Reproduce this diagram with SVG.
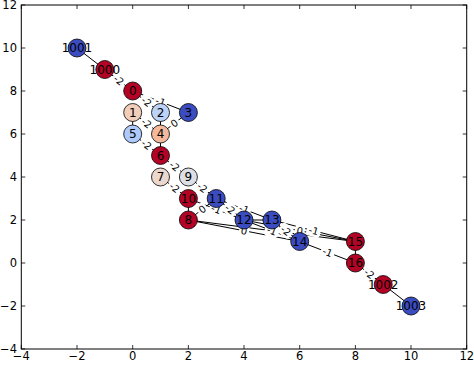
<svg xmlns="http://www.w3.org/2000/svg" width="474" height="366" viewBox="0 0 474 366">
<style>
text{font-family:"DejaVu Sans","Liberation Sans",sans-serif;fill:#000}
.tick{stroke:#000;stroke-width:0.8}
.ytl{font-size:11.5px;text-anchor:end}
.xtl{font-size:11.5px;text-anchor:middle}
.e line{stroke:#000;stroke-width:1}
.lb rect{fill:#fff;stroke:none}
.lb text{font-size:10px;text-anchor:middle;dominant-baseline:central}
.n circle{stroke:#000;stroke-width:0.8}
.n text{font-size:12px;text-anchor:middle;dominant-baseline:central}
.r{fill:#b40426}.b{fill:#3b4cc0}
</style>
<rect x="0" y="0" width="474" height="366" fill="#fff"/>
<g id="axes">
<rect x="21.3" y="5" width="445.4" height="344" fill="#fff" stroke="#000" stroke-width="1"/>
<path class="tick" d="M21.3 349v-4M77 349v-4M132.7 349v-4M188.4 349v-4M244 349v-4M299.7 349v-4M355.4 349v-4M411 349v-4M466.7 349v-4
M21.3 5v4M77 5v4M132.7 5v4M188.4 5v4M244 5v4M299.7 5v4M355.4 5v4M411 5v4M466.7 5v4
M21.3 349h4M21.3 306h4M21.3 263h4M21.3 220h4M21.3 177h4M21.3 134h4M21.3 91h4M21.3 48h4M21.3 5h4
M466.7 349h-4M466.7 306h-4M466.7 263h-4M466.7 220h-4M466.7 177h-4M466.7 134h-4M466.7 91h-4M466.7 48h-4M466.7 5h-4"/>
<g class="ytl">
<text x="17" y="353.2">−4</text>
<text x="17" y="310.2">−2</text>
<text x="17" y="267.2">0</text>
<text x="17" y="224.2">2</text>
<text x="17" y="181.2">4</text>
<text x="17" y="138.2">6</text>
<text x="17" y="95.2">8</text>
<text x="17" y="52.2">10</text>
<text x="17" y="9.2">12</text>
</g>
<g class="xtl">
<text x="21.3" y="359.5">−4</text>
<text x="77" y="359.5">−2</text>
<text x="132.7" y="359.5">0</text>
<text x="188.4" y="359.5">2</text>
<text x="244" y="359.5">4</text>
<text x="299.7" y="359.5">6</text>
<text x="355.4" y="359.5">8</text>
<text x="411" y="359.5">10</text>
<text x="466.7" y="359.5">12</text>
</g>
</g>
<g id="edges" class="e">
<line x1="77" y1="48" x2="104.8" y2="69.5"/>
<line x1="104.8" y1="69.5" x2="132.7" y2="91"/>
<line x1="132.7" y1="91" x2="160.5" y2="112.5"/>
<line x1="132.7" y1="91" x2="188.4" y2="112.5"/>
<line x1="132.7" y1="112.5" x2="160.5" y2="134"/>
<line x1="188.4" y1="112.5" x2="160.5" y2="134"/>
<line x1="132.7" y1="112.5" x2="132.7" y2="134"/>
<line x1="160.5" y1="112.5" x2="160.5" y2="134"/>
<line x1="132.7" y1="134" x2="160.5" y2="155.5"/>
<line x1="160.5" y1="134" x2="160.5" y2="155.5"/>
<line x1="160.5" y1="155.5" x2="188.4" y2="177"/>
<line x1="160.5" y1="177" x2="188.4" y2="198.5"/>
<line x1="188.4" y1="177" x2="216.2" y2="198.5"/>
<line x1="188.4" y1="198.5" x2="188.4" y2="220"/>
<line x1="188.4" y1="220" x2="216.2" y2="198.5"/>
<line x1="188.4" y1="198.5" x2="244" y2="220"/>
<line x1="216.2" y1="198.5" x2="244" y2="220"/>
<line x1="216.2" y1="198.5" x2="271.9" y2="220"/>
<line x1="244" y1="220" x2="271.9" y2="220"/>
<line x1="188.4" y1="220" x2="299.7" y2="241.5"/>
<line x1="188.4" y1="220" x2="355.4" y2="241.5"/>
<line x1="244" y1="220" x2="299.7" y2="241.5"/>
<line x1="244" y1="220" x2="355.4" y2="241.5"/>
<line x1="271.9" y1="220" x2="299.7" y2="241.5"/>
<line x1="271.9" y1="220" x2="355.4" y2="241.5"/>
<line x1="299.7" y1="241.5" x2="355.4" y2="263"/>
<line x1="355.4" y1="241.5" x2="355.4" y2="263"/>
<line x1="355.4" y1="263" x2="383.2" y2="284.5"/>
<line x1="383.2" y1="284.5" x2="411" y2="306"/>
</g>
<g id="edge-labels" class="lb">
<g transform="translate(118.8,80.3) rotate(37.7)"><rect x="-7" y="-6" width="14" height="12" rx="3"/><text>-2</text></g>
<g transform="translate(146.6,101.8) rotate(37.7)"><rect x="-7" y="-6" width="14" height="12" rx="3"/><text>-2</text></g>
<g transform="translate(160.5,101.8) rotate(21.1)"><rect x="-7" y="-6" width="14" height="12" rx="3"/><text>-1</text></g>
<g transform="translate(146.6,123.3) rotate(37.7)"><rect x="-7" y="-6" width="14" height="12" rx="3"/><text>-2</text></g>
<g transform="translate(174.5,123.3) rotate(-37.7)"><rect x="-5" y="-6" width="10" height="12" rx="3"/><text>0</text></g>
<g transform="translate(146.6,144.8) rotate(37.7)"><rect x="-7" y="-6" width="14" height="12" rx="3"/><text>-2</text></g>
<g transform="translate(174.5,166.3) rotate(37.7)"><rect x="-7" y="-6" width="14" height="12" rx="3"/><text>-2</text></g>
<g transform="translate(174.5,187.8) rotate(37.7)"><rect x="-7" y="-6" width="14" height="12" rx="3"/><text>-2</text></g>
<g transform="translate(202.3,187.8) rotate(37.7)"><rect x="-7" y="-6" width="14" height="12" rx="3"/><text>-2</text></g>
<g transform="translate(202.3,209.3) rotate(-37.7)"><rect x="-5" y="-6" width="10" height="12" rx="3"/><text>0</text></g>
<g transform="translate(216.2,209.3) rotate(21.1)"><rect x="-7" y="-6" width="14" height="12" rx="3"/><text>-1</text></g>
<g transform="translate(230.1,209.3) rotate(37.7)"><rect x="-7" y="-6" width="14" height="12" rx="3"/><text>-2</text></g>
<g transform="translate(244.1,209.3) rotate(21.1)"><rect x="-7" y="-6" width="14" height="12" rx="3"/><text>-1</text></g>
<g transform="translate(244.1,230.8) rotate(10.9)"><rect x="-5" y="-6" width="10" height="12" rx="3"/><text>0</text></g>
<g transform="translate(271.9,230.8) rotate(7.3)"><rect x="-7" y="-6" width="14" height="12" rx="3"/><text>-1</text></g>
<g transform="translate(271.9,230.8) rotate(21.1)"><rect x="-7" y="-6" width="14" height="12" rx="3"/><text>-1</text></g>
<g transform="translate(299.7,230.8) rotate(10.9)"><rect x="-5" y="-6" width="10" height="12" rx="3"/><text>0</text></g>
<g transform="translate(285.8,230.8) rotate(37.7)"><rect x="-7" y="-6" width="14" height="12" rx="3"/><text>-2</text></g>
<g transform="translate(313.7,230.8) rotate(14.4)"><rect x="-7" y="-6" width="14" height="12" rx="3"/><text>-1</text></g>
<g transform="translate(327.6,252.3) rotate(21.1)"><rect x="-7" y="-6" width="14" height="12" rx="3"/><text>-1</text></g>
<g transform="translate(369.3,273.8) rotate(37.7)"><rect x="-7" y="-6" width="14" height="12" rx="3"/><text>-2</text></g>
</g>
<g id="node-1001" class="n"><circle class="b" cx="77" cy="48" r="9"/><text x="77" y="48">1001</text></g>
<g id="node-1000" class="n"><circle class="r" cx="104.8" cy="69.5" r="9"/><text x="104.8" y="69.5">1000</text></g>
<g id="node-0" class="n"><circle class="r" cx="132.7" cy="91" r="9"/><text x="132.7" y="91">0</text></g>
<g id="node-1" class="n"><circle fill="#f1cdba" cx="132.7" cy="112.5" r="9"/><text x="132.7" y="112.5">1</text></g>
<g id="node-2" class="n"><circle fill="#bcd2f7" cx="160.5" cy="112.5" r="9"/><text x="160.5" y="112.5">2</text></g>
<g id="node-3" class="n"><circle class="b" cx="188.4" cy="112.5" r="9"/><text x="188.4" y="112.5">3</text></g>
<g id="node-5" class="n"><circle fill="#aec9fc" cx="132.7" cy="134" r="9"/><text x="132.7" y="134">5</text></g>
<g id="node-4" class="n"><circle fill="#f4b99c" cx="160.5" cy="134" r="9"/><text x="160.5" y="134">4</text></g>
<g id="node-6" class="n"><circle class="r" cx="160.5" cy="155.5" r="9"/><text x="160.5" y="155.5">6</text></g>
<g id="node-7" class="n"><circle fill="#ebd7cc" cx="160.5" cy="177" r="9"/><text x="160.5" y="177">7</text></g>
<g id="node-9" class="n"><circle fill="#dcdfe6" cx="188.4" cy="177" r="9"/><text x="188.4" y="177">9</text></g>
<g id="node-10" class="n"><circle class="r" cx="188.4" cy="198.5" r="9"/><text x="188.4" y="198.5">10</text></g>
<g id="node-11" class="n"><circle class="b" cx="216.2" cy="198.5" r="9"/><text x="216.2" y="198.5">11</text></g>
<g id="node-8" class="n"><circle class="r" cx="188.4" cy="220" r="9"/><text x="188.4" y="220">8</text></g>
<g id="node-12" class="n"><circle class="b" cx="244" cy="220" r="9"/><text x="244" y="220">12</text></g>
<g id="node-13" class="n"><circle class="b" cx="271.9" cy="220" r="9"/><text x="271.9" y="220">13</text></g>
<g id="node-14" class="n"><circle class="b" cx="299.7" cy="241.5" r="9"/><text x="299.7" y="241.5">14</text></g>
<g id="node-15" class="n"><circle class="r" cx="355.4" cy="241.5" r="9"/><text x="355.4" y="241.5">15</text></g>
<g id="node-16" class="n"><circle class="r" cx="355.4" cy="263" r="9"/><text x="355.4" y="263">16</text></g>
<g id="node-1002" class="n"><circle class="r" cx="383.2" cy="284.5" r="9"/><text x="383.2" y="284.5">1002</text></g>
<g id="node-1003" class="n"><circle class="b" cx="411" cy="306" r="9"/><text x="411" y="306">1003</text></g>
</svg>
